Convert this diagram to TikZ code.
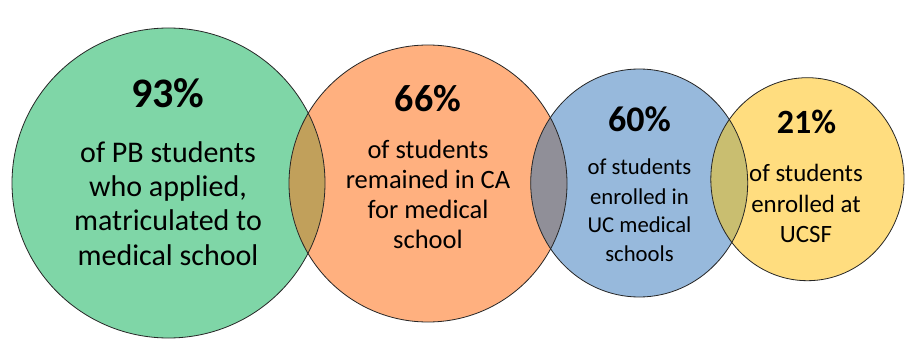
\documentclass[tikz,border=0pt]{standalone}
\usepackage{fontspec}
\setmainfont{Carlito}
\definecolor{cgreen}{HTML}{7FD6A7}
\definecolor{corange}{HTML}{FFB07F}
\definecolor{cblue}{HTML}{97B9DC}
\definecolor{cyellow}{HTML}{FFDD7F}
\definecolor{lensGO}{HTML}{C1A05B}
\definecolor{lensOB}{HTML}{908F98}
\definecolor{lensBY}{HTML}{C9BE70}
\tikzset{
  rim/.style={draw=black!85, line width=0.8pt},
  pct/.style={anchor=base, inner sep=0pt, font=\bfseries\fontsize{#1}{#1}\selectfont},
  txt/.style={anchor=base, inner sep=0pt, font=\fontsize{#1}{#1}\selectfont},
}
\begin{document}
\begin{tikzpicture}[x=1pt,y=-1pt]
\useasboundingbox (0,0) rectangle (917,358);
\fill[white] (0,0) rectangle (917,358);
% fills
\fill[cgreen] (168.5,183) ellipse [x radius=156.5, y radius=155];
\fill[corange] (428,183.5) ellipse [x radius=139, y radius=138.5];
\fill[cblue] (639.2,183) ellipse [x radius=108.5, y radius=114];
\fill[cyellow] (807.4,179.2) ellipse [x radius=96.6, y radius=101.5];
% lenses
\begin{scope}
  \clip (168.5,183) ellipse [x radius=156.5, y radius=155];
  \fill[lensGO] (428,183.5) ellipse [x radius=139, y radius=138.5];
\end{scope}
\begin{scope}
  \clip (428,183.5) ellipse [x radius=139, y radius=138.5];
  \fill[lensOB] (639.2,183) ellipse [x radius=108.5, y radius=114];
\end{scope}
\begin{scope}
  \clip (639.2,183) ellipse [x radius=108.5, y radius=114];
  \fill[lensBY] (807.4,179.2) ellipse [x radius=96.6, y radius=101.5];
\end{scope}
% outlines
\draw[rim] (168.5,183) ellipse [x radius=156.5, y radius=155];
\draw[rim] (428,183.5) ellipse [x radius=139, y radius=138.5];
\draw[rim] (639.2,183) ellipse [x radius=108.5, y radius=114];
\draw[rim] (807.4,179.2) ellipse [x radius=96.6, y radius=101.5];
% green text
\node[pct=42] (g0) at (168,108) {93\%};
\node[txt=30] (g1) at (168,162.3) {of PB students};
\node[txt=30] (g2) at (168,196.7) {who applied,};
\node[txt=30] (g3) at (168,230.7) {matriculated to};
\node[txt=30] (g4) at (168,265) {medical school};
% orange text
\node[pct=38] (o0) at (428,111.5) {66\%};
\node[txt=26.5] (o1) at (428,158.5) {of students};
\node[txt=26.5] (o2) at (428,189) {remained in CA};
\node[txt=26.5] (o3) at (428,218.5) {for medical};
\node[txt=26.5] (o4) at (428,248.5) {school};
% blue text
\node[pct=36] (b0) at (639.5,131.5) {60\%};
\node[txt=22.7] (b1) at (639.5,175) {of students};
\node[txt=22.7] (b2) at (639.5,204) {enrolled in};
\node[txt=22.7] (b3) at (639.5,232.3) {UC medical};
\node[txt=22.7] (b4) at (639.5,261) {schools};
% yellow text
\node[pct=34] (y0) at (806.5,134) {21\%};
\node[txt=24.9] (y1) at (806,182) {of students};
\node[txt=24.9] (y2) at (806,212) {enrolled at};
\node[txt=24.9] (y3) at (806,242.3) {UCSF};
\end{tikzpicture}
\end{document}
